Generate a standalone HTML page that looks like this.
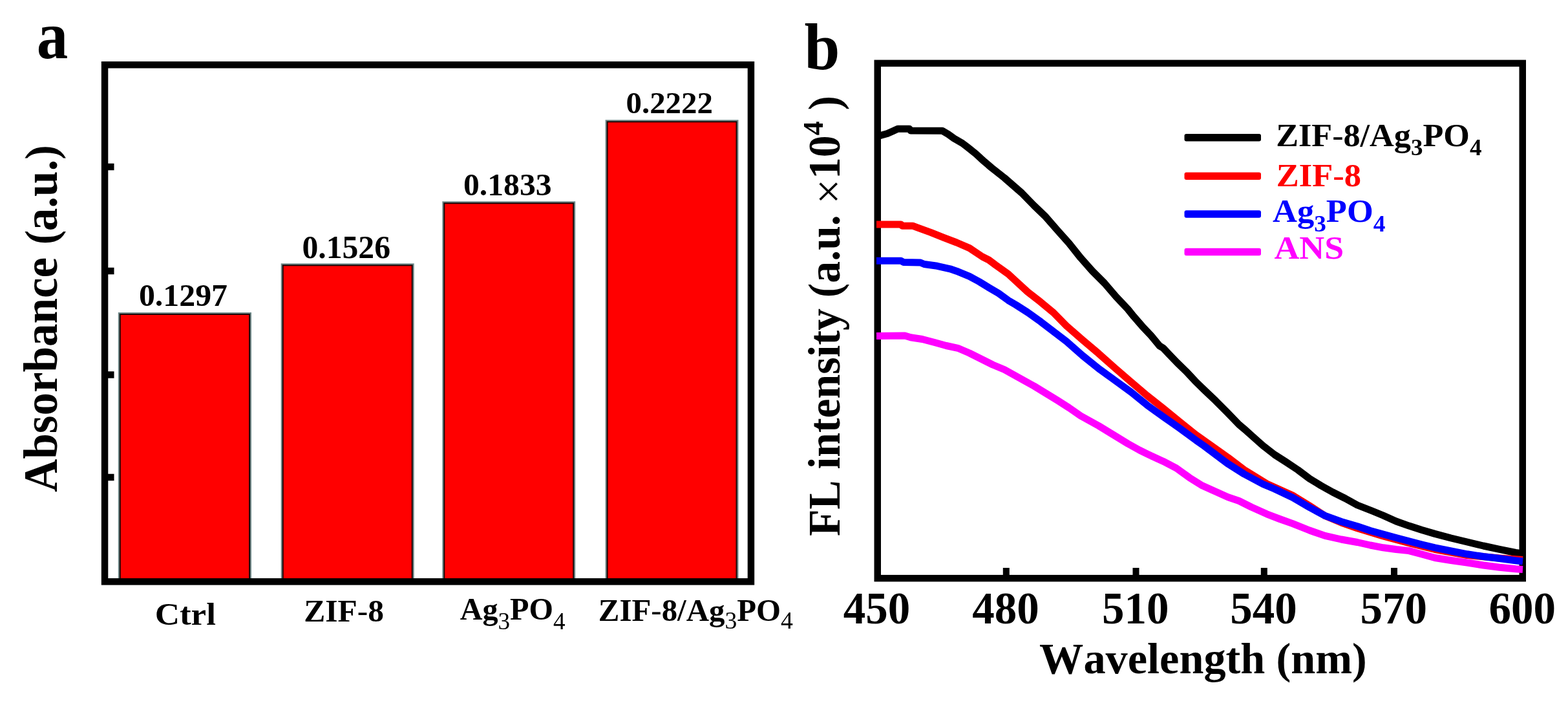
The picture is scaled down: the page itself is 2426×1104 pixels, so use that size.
<!DOCTYPE html>
<html><head><meta charset="utf-8"><title>Absorbance and FL intensity</title>
<style>
html,body{margin:0;padding:0;background:#fff;}
body{width:2426px;height:1104px;overflow:hidden;}
svg{display:block;}
text{font-family:'Liberation Serif', 'Times New Roman', serif;font-weight:bold;fill:#000;font-kerning:none;font-feature-settings:'kern' 0;}
</style></head><body>
<svg width="2426" height="1104" viewBox="0 0 2426 1104">
<rect x="0" y="0" width="2426" height="1104" fill="#fff"/>

<g id="panel-a">
<text transform="translate(56.80,89.51) scale(0.9333,0.9940)" font-size="104">a</text>
<rect x="182.8" y="483" width="206.2" height="414.0" fill="#6f8a8a"/>
<rect x="184.8" y="485" width="202.2" height="412.0" fill="#1e0606"/>
<rect x="186.8" y="487" width="198.2" height="410.0" fill="#ff0000"/>
<text transform="translate(214.92,473.00) scale(1.0388,1.0188)" font-size="48">0.1297</text>
<rect x="434.7" y="407.3" width="206.0" height="489.7" fill="#6f8a8a"/>
<rect x="436.7" y="409.3" width="202.0" height="487.7" fill="#1e0606"/>
<rect x="438.7" y="411.3" width="198.0" height="485.7" fill="#ff0000"/>
<text transform="translate(467.43,398.50) scale(1.0349,1.0344)" font-size="48">0.1526</text>
<rect x="684.3" y="311.3" width="205.9" height="585.7" fill="#6f8a8a"/>
<rect x="686.3" y="313.3" width="201.9" height="583.7" fill="#1e0606"/>
<rect x="688.3" y="315.3" width="197.9" height="581.7" fill="#ff0000"/>
<text transform="translate(716.93,301.60) scale(1.0352,1.0063)" font-size="48">0.1833</text>
<rect x="936.6" y="185.3" width="205.9" height="711.7" fill="#6f8a8a"/>
<rect x="938.6" y="187.3" width="201.9" height="709.7" fill="#1e0606"/>
<rect x="940.6" y="189.3" width="197.9" height="707.7" fill="#ff0000"/>
<text transform="translate(968.46,174.60) scale(1.0195,0.9750)" font-size="48">0.2222</text>
<rect x="162.05" y="100.25" width="999.9000000000001" height="799.1" fill="none" stroke="#000" stroke-width="10.5"/>
<rect x="166.3" y="252.75" width="10.199999999999989" height="10.5" fill="#000"/>
<rect x="166.3" y="413.75" width="10.199999999999989" height="10.5" fill="#000"/>
<rect x="166.3" y="574.25" width="10.199999999999989" height="10.5" fill="#000"/>
<rect x="166.3" y="732.75" width="10.199999999999989" height="10.5" fill="#000"/>
<text transform="translate(239.66,965.76) scale(1.0200,0.9368)" font-size="52">Ctrl</text>
<text transform="translate(470.34,961.10) scale(1.0310,1.0063)" font-size="48">ZIF<tspan font-weight="normal">-</tspan>8</text>
<text transform="translate(711.70,958.30) scale(1.0031,1.0217)" font-size="48">Ag<tspan font-size="37" font-weight="normal" dy="14">3</tspan><tspan dy="-14">PO</tspan><tspan font-size="37" font-weight="normal" dy="14">4</tspan></text>
<text transform="translate(925.86,960.35) scale(1.0184,1.0045)" font-size="48">ZIF<tspan font-weight="normal">-</tspan>8/Ag<tspan font-size="37" font-weight="normal" dy="11.5">3</tspan><tspan dy="-11.5">PO</tspan><tspan font-size="37" font-weight="normal" dy="11.5">4</tspan></text>
<text transform="translate(87.60,761.09) rotate(-90) scale(0.9869,1.0404)" font-size="72">Absorbance <tspan font-size="68" dy="-1" dx="2">(</tspan><tspan dy="1" dx="-1.5">a.u.</tspan><tspan font-size="68" dy="-1">)</tspan></text>
</g>
<g id="panel-b">
<text transform="translate(1244.45,107.43) scale(0.9491,0.9685)" font-size="104">b</text>
<rect x="1357.75" y="97.85" width="998.0" height="796.3" fill="none" stroke="#000" stroke-width="10.5"/>
<polyline points="1357,211 1364,209 1373,206.5 1382,202.4 1389,199.3 1407,199.3 1409,202 1458,202.2 1467,207.5 1476,214 1489,221.5 1498,228.4 1510,238 1520,247.3 1534,259.2 1554,275 1581,298.5 1600,318 1618,335.3 1636,356 1654,376.1 1672,398.7 1690,419 1709,438 1727,459 1745,478 1754,489.2 1767,504.2 1781,519.1 1794,534.7 1800,538.4 1808,547 1821,560.5 1835,574.1 1849,589.1 1863,602.7 1881,619.8 1899,637.9 1917,656.5 1925,663.2 1936,673 1954,689 1972,703 1990,714.5 2008,726.5 2026,740 2044,751 2062,761 2081,770.5 2100,781 2123,790 2140,797 2160,806 2180,813.1 2200,819.5 2220,825.4 2245,832 2270,838 2295,844 2320,849.3 2345,854.5 2356,856" fill="none" stroke="#000" stroke-width="11" stroke-linejoin="round" stroke-linecap="butt"/>
<polyline points="1356,347 1394,347 1396,349.2 1412,349.2 1420,352.2 1440,359.4 1460,367.4 1480,375 1500,383.6 1520,397 1530,402 1540,409.5 1560,423.8 1570,433 1590,451.4 1610,466.9 1630,483.5 1650,503.8 1675,525.7 1700,546.8 1725,569 1750,590.6 1775,611.9 1800,631.5 1825,652 1850,672 1881,694 1900,707.5 1925,726.4 1960,748 2000,766 2026,782 2050,797.5 2075,808 2100,816.8 2140,829 2180,839.7 2220,849.5 2270,858.5 2320,863 2356,865.5" fill="none" stroke="#ff0000" stroke-width="11" stroke-linejoin="round" stroke-linecap="butt"/>
<polyline points="1356,403.3 1394,403.3 1398,405.5 1424,406 1430,408.5 1450,411.3 1470,415.8 1480,419.2 1500,427.3 1515,435.5 1530,444.7 1545,453.5 1560,464.4 1572,471.5 1590,483 1610,497.3 1630,512.7 1650,527.9 1675,549.9 1700,570 1725,588.1 1750,606.3 1775,626.6 1800,644.5 1825,662 1850,680.4 1863,689.5 1881,703 1899,716.5 1925,733 1954,748.5 1972,756 2000,769.2 2026,784.5 2050,797.4 2075,806.5 2100,813.8 2120,820.5 2140,826 2160,831.5 2180,836.7 2200,842 2220,846.9 2245,852 2270,856.8 2295,860.5 2320,863.5 2345,866.8 2356,868" fill="none" stroke="#0000ff" stroke-width="11" stroke-linejoin="round" stroke-linecap="butt"/>
<polyline points="1356,519.5 1400,519 1409,521.7 1427,524.5 1446,529.5 1464,534.5 1482,538.3 1500,546 1518,555 1536,564 1554,571.5 1572,581.5 1590,591.5 1600,597 1618,608 1636,619 1654,630.5 1672,643 1700,658.5 1727,675 1745,686 1763,696 1780,704.3 1800,713.4 1820,723.9 1840,738.3 1860,750.8 1880,759.8 1900,768.7 1917,774.5 1936,784 1960,794.8 1980,802.5 2000,809.7 2026,820 2050,828.4 2075,834 2100,838.5 2120,843 2140,846.8 2160,849.5 2180,851.6 2200,857 2220,862.5 2245,866.5 2270,870 2295,874 2320,877.3 2345,879.8 2356,880.5" fill="none" stroke="#ff00ff" stroke-width="11" stroke-linejoin="round" stroke-linecap="butt"/>
<text x="1356.5" y="964.3" font-size="69" text-anchor="middle">450</text>
<rect x="1551.8" y="878" width="10" height="11.899999999999977" fill="#000"/>
<text x="1556.0" y="964.3" font-size="69" text-anchor="middle">480</text>
<rect x="1752.5" y="878" width="10" height="11.899999999999977" fill="#000"/>
<text x="1756.7" y="964.3" font-size="69" text-anchor="middle">510</text>
<rect x="1950.8" y="878" width="10" height="11.899999999999977" fill="#000"/>
<text x="1955.0" y="964.3" font-size="69" text-anchor="middle">540</text>
<rect x="2152" y="878" width="10" height="11.899999999999977" fill="#000"/>
<text x="2156.2" y="964.3" font-size="69" text-anchor="middle">570</text>
<text x="2355.2" y="964.3" font-size="69" text-anchor="middle">600</text>
<text transform="translate(1608.11,1040.80) scale(0.9904,0.9935)" font-size="69">Wavelength (nm)</text>
<text transform="translate(1298.90,829.00) rotate(-90) scale(0.9962,1.0295)" font-size="68">FL intensity (a.u. <tspan font-weight="normal" dy="6">×</tspan><tspan dy="-6">10</tspan><tspan font-size="44" dy="-25">4</tspan><tspan dy="25"> )</tspan></text>
<rect x="1832.5" y="207.0" width="118.5" height="11.6" rx="3" fill="#000"/>
<rect x="1832.5" y="266.5" width="118.5" height="11.6" rx="3" fill="#ff0000"/>
<rect x="1832.5" y="325.2" width="118.5" height="11.6" rx="3" fill="#0000ff"/>
<rect x="1832.5" y="383.7" width="118.5" height="11.6" rx="3" fill="#ff00ff"/>
<text transform="translate(1974.19,225.57) scale(1.0035,0.9820)" font-size="52">ZIF<tspan font-weight="normal">-</tspan>8/Ag<tspan font-size="37" dy="15">3</tspan><tspan dy="-15">PO</tspan><tspan font-size="37" dy="15">4</tspan></text>
<text transform="translate(1974.68,287.51) scale(1.0103,0.9917)" font-size="52" style="fill:#ff0000">ZIF<tspan font-weight="normal">-</tspan>8</text>
<text transform="translate(1969.10,343.40) scale(1.0087,0.9800)" font-size="52" style="fill:#0000ff">Ag<tspan font-size="37" dy="15">3</tspan><tspan dy="-15">PO</tspan><tspan font-size="37" dy="15">4</tspan></text>
<text transform="translate(1971.50,399.91) scale(1.0353,0.9944)" font-size="52" style="fill:#ff00ff">ANS</text>
</g>
</svg></body></html>
